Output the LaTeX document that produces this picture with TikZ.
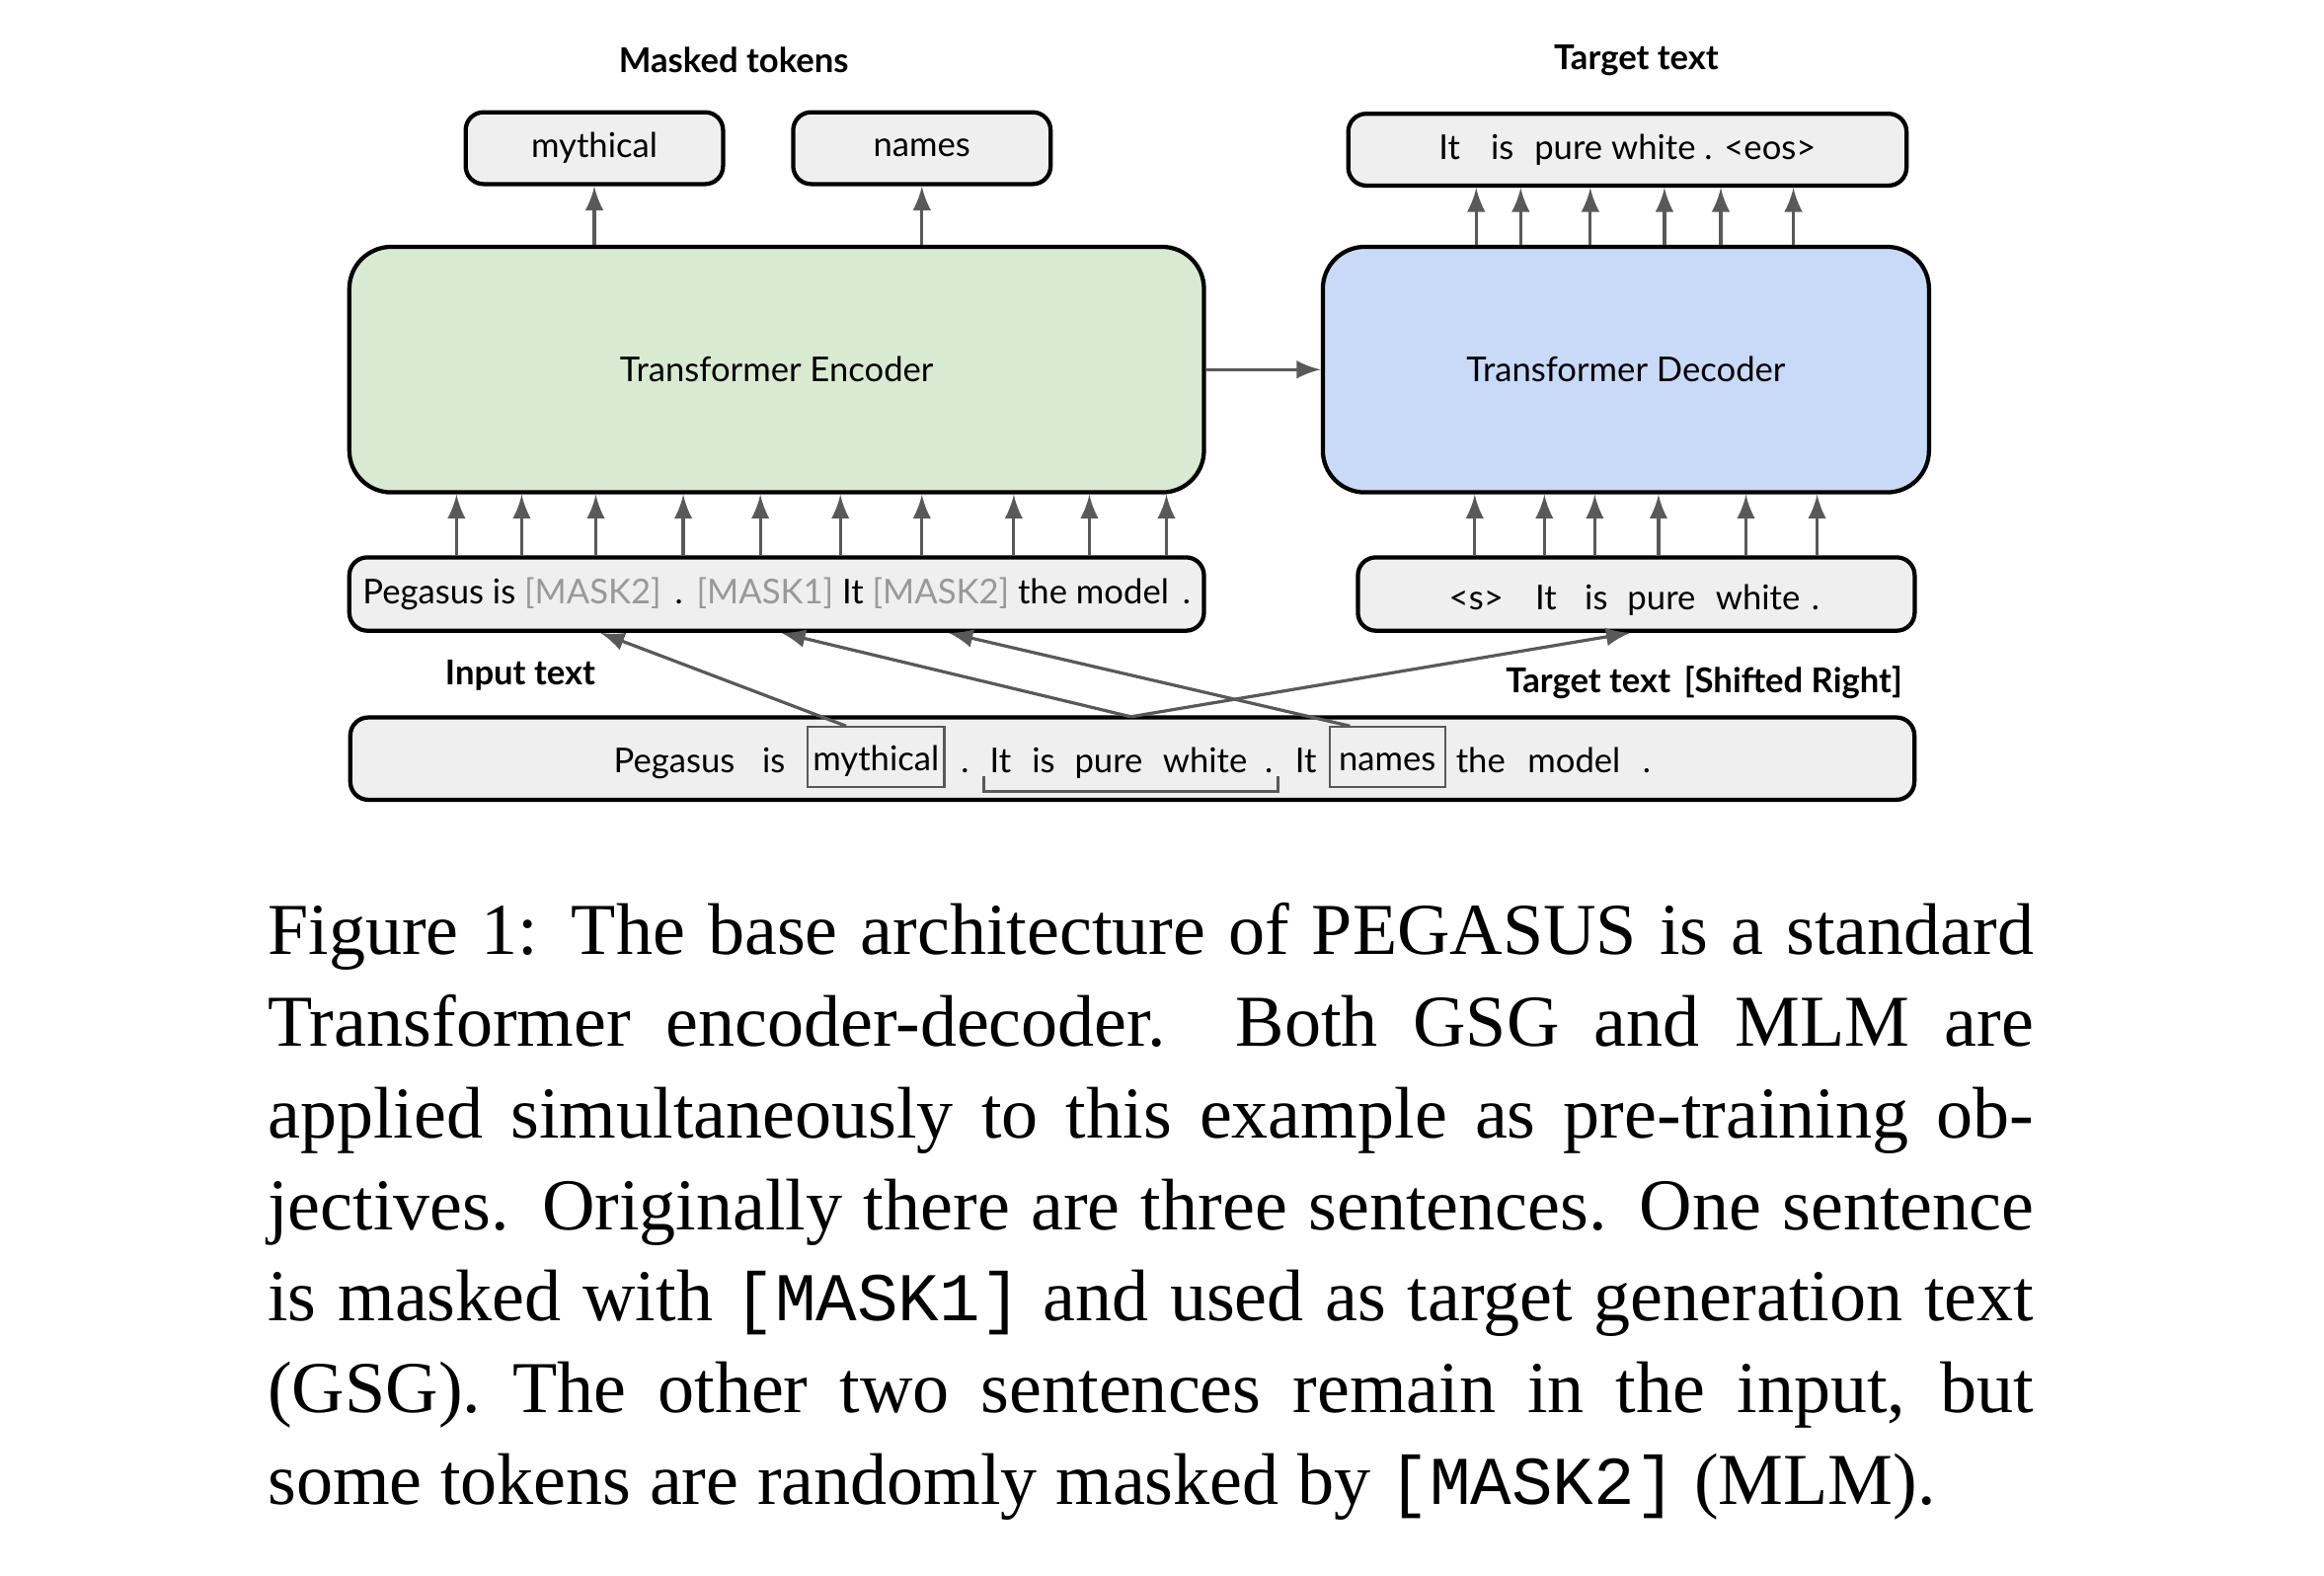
\documentclass[tikz,border=0pt]{standalone}
\usepackage{fontspec}
\setmainfont{Liberation Serif}
\newfontfamily\dgfont{Lato}
\setmonofont{Liberation Mono}
\usetikzlibrary{positioning}
\definecolor{boxgray}{HTML}{EFEFEF}
\definecolor{encgreen}{HTML}{D9EAD3}
\definecolor{decblue}{HTML}{C9DAF8}
\definecolor{arrgray}{HTML}{595959}
\definecolor{maskgray}{HTML}{999999}
\tikzset{
  tok/.style = {draw, line width=0.8pt, rounded corners=0.12cm, fill=boxgray, font=\dgfont\fontsize{6.5}{8}\selectfont, inner sep=0pt},
  block/.style = {draw, line width=0.8pt, rounded corners=0.28cm, font=\dgfont\fontsize{6.5}{8}\selectfont, inner sep=0pt},
  word/.style = {font=\dgfont\fontsize{6.5}{8}\selectfont, inner sep=1pt, text height=1.6ex, text depth=0.45ex},
  title/.style = {font=\dgfont\bfseries\fontsize{6.5}{8}\selectfont},
  arr/.style = {-latex, arrgray, line width=0.6pt}
}
\begin{document}
\begin{tikzpicture}[x=0.0099cm, y=-0.01cm]
  \useasboundingbox (0,0) rectangle (1568,1053);
  % titles
  \node[title] (tmask) at (495,40) {Masked tokens};
  \node[title] (ttgt) at (1104,40) {Target text};
  % output boxes
  \node[tok, minimum width=1.72cm, minimum height=0.48cm] (myth) at (401,99) {mythical};
  \node[tok, minimum width=1.72cm, minimum height=0.48cm] (nam) at (622,99) {names};
  \node[tok, minimum width=3.73cm, minimum height=0.48cm] (tgt) at (1098,100) {It\hspace{0.9em}is\hspace{0.6em}pure white . <eos>};
  % encoder and decoder
  \node[block, fill=encgreen, minimum width=5.71cm, minimum height=1.64cm] (enc) at (524,247) {Transformer Encoder};
  \node[block, fill=decblue, minimum width=4.05cm, minimum height=1.64cm] (dec) at (1097,247) {Transformer Decoder};
  \draw[arr] (enc) -- (dec);
  \draw[arr] (enc.north -| myth) -- (myth);
  \draw[arr] (enc.north -| nam) -- (nam);
  \foreach \x in {996,1026,1073,1123,1161,1210} {
    \coordinate (c) at (\x,0);
    \draw[arr] (dec.north -| c) -- (tgt.south -| c);
  }
  % inputs
  \node[tok, minimum width=5.71cm, minimum height=0.49cm] (minp) at (524,397) {Pegasus is \textcolor{maskgray}{[MASK2]}\hspace{0.4em}.\hspace{0.4em}\textcolor{maskgray}{[MASK1]} It \textcolor{maskgray}{[MASK2]} the model\hspace{0.4em}.};
  \node[tok, minimum width=3.72cm, minimum height=0.49cm] (dinp) at (1104,397) {};
  \foreach \t/\x in {<s>/996, It/1043, is/1077, pure/1121, white/1186, ./1225}
    \node[word] at (\x,398) {\t};
  \foreach \x in {308,352,402,461,513,567,622,684,735,787} {
    \coordinate (c) at (\x,0);
    \draw[arr] (minp.north -| c) -- (enc.south -| c);
  }
  \foreach \x in {995,1042,1076,1119,1178,1226} {
    \coordinate (c) at (\x,0);
    \draw[arr] (dinp.north -| c) -- (dec.south -| c);
  }
  \node[title] (tin) at (351,451) {Input text};
  \node[title, anchor=east] (tshift) at (1296,456) {Target text\hspace{0.4em}[Shifted Right]};
  % original text
  \node[tok, minimum width=10.45cm, minimum height=0.55cm] (orig) at (764,507) {};
  \foreach \t/\x in {Pegasus/455, is/522, ./651, It/675, is/704, pure/748, white/813, ./856, It/881, the/999, model/1062, ./1111}
    \node[word] at (\x,507) {\t};
  \node[word, draw, arrgray, text=black, minimum width=0.9cm, minimum height=0.38cm] (bmyth) at (591,506) {mythical};
  \node[word, draw, arrgray, text=black, minimum width=0.77cm, minimum height=0.38cm] (bnam) at (936,506) {names};
  \draw[arrgray, line width=0.6pt] (664,519) -- (664,529) -- (862,529) -- (862,519);
  \coordinate (sent) at (763,479);
  \coordinate (a1) at (405,0);
  \coordinate (a2) at (527,0);
  \coordinate (a3) at (640,0);
  \coordinate (a4) at (1100,0);
  \draw[arr] ([xshift=-0.2cm]bmyth.north) -- (minp.south -| a1);
  \draw[arr] (sent) -- (minp.south -| a2);
  \draw[arr] (sent) -- (dinp.south -| a4);
  \draw[arr] ([xshift=-0.25cm]bnam.north) -- (minp.south -| a3);
  % caption
  \node[anchor=north west, inner sep=0pt, text width=11.8cm, align=justify] (cap) at (180,603) {\fontsize{13.9}{17.4}\selectfont\hyphenpenalty=10000
    Figure 1: The base architecture of PEGASUS is a standard\linebreak Transformer encoder-decoder.\ \ Both GSG and MLM are\linebreak applied simultaneously to this example as pre-training ob-\linebreak jectives. Originally there are three sentences. One sentence\linebreak is masked with {\fontsize{13}{17.4}\selectfont\texttt{[MASK1]}} and used as target generation text\linebreak (GSG). The other two sentences remain in the input, but\linebreak some tokens are randomly masked by {\fontsize{13}{17.4}\selectfont\texttt{[MASK2]}} (MLM).\par};
\end{tikzpicture}
\end{document}
